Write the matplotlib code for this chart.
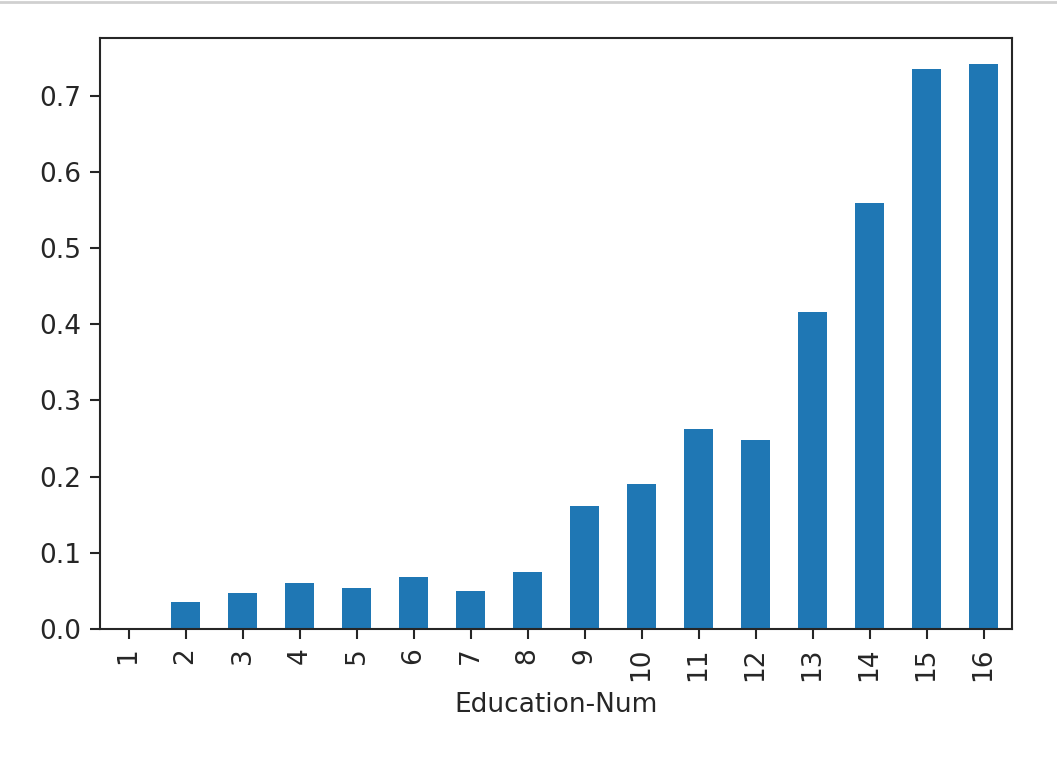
import matplotlib
matplotlib.use("Agg")
import matplotlib.pyplot as plt
from matplotlib.lines import Line2D

categories = ["1", "2", "3", "4", "5", "6", "7", "8", "9", "10", "11", "12", "13", "14", "15", "16"]
values = [0.0, 0.036, 0.047, 0.061, 0.054, 0.068, 0.050, 0.075, 0.161, 0.190, 0.262, 0.248, 0.416, 0.559, 0.735, 0.742]
xlabel = "Education-Num"

ink = "#262626"
plt.rcParams.update({
    "font.size": 19,
    "axes.linewidth": 1.5,
    "axes.edgecolor": ink,
    "text.color": ink,
    "axes.labelcolor": ink,
    "xtick.color": ink,
    "ytick.color": ink,
    "xtick.major.width": 1.5,
    "ytick.major.width": 1.5,
    "xtick.major.size": 7,
    "ytick.major.size": 7,
    "xtick.major.pad": 6.5,
    "ytick.major.pad": 6.5,
    "axes.labelpad": 8,
})

fig = plt.figure(figsize=(10.57, 7.65), dpi=100)
ax = fig.add_axes([100 / 1057, 1 - 629 / 765, (1012 - 100) / 1057, (629 - 38) / 765])
x = list(range(len(categories)))
ax.bar(x, values, width=0.5, color="#1f77b4")
ax.set_xticks(x)
ax.set_xticklabels(categories, rotation=90)
ax.set_xlim(-0.5, len(categories) - 0.5)
ax.set_ylim(0, 0.7756)
ax.set_yticks([0.0, 0.1, 0.2, 0.3, 0.4, 0.5, 0.6, 0.7])
ax.set_yticklabels(["0.0", "0.1", "0.2", "0.3", "0.4", "0.5", "0.6", "0.7"])
ax.set_xlabel(xlabel)

fig.add_artist(Line2D([0, 1], [1 - 1.5 / 765, 1 - 1.5 / 765], transform=fig.transFigure,
                      color="#d0d0d0", linewidth=2))

fig.savefig("out.png", dpi=100)
